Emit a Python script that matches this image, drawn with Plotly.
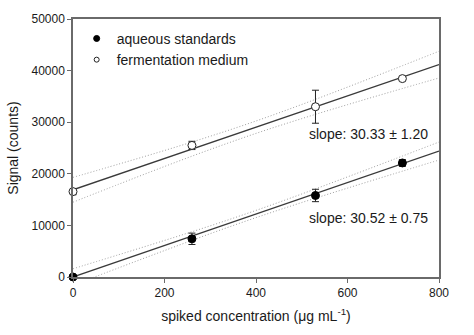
import plotly.graph_objects as go

# ---- data ----
conc = [0, 260, 530, 720]
aq_signal = [0, 7400, 15800, 22100]
aq_err = [0, 1100, 1200, 650]
fm_signal = [16550, 25500, 33000, 38450]
fm_err = [600, 800, 3200, 300]

aq_slope, aq_intercept = 30.52, 0
fm_slope, fm_intercept = 30.33, 16900

band_x = [0, 100, 200, 300, 400, 500, 600, 700, 800]
aq_band = [1600, 1270, 980, 760, 700, 830, 1090, 1400, 1740]
fm_band = [2400, 1950, 1550, 1280, 1200, 1370, 1700, 2120, 2590]

x_ticks = [0, 200, 400, 600, 800]
y_ticks = [0, 10000, 20000, 30000, 40000, 50000]

aq_label = "slope: 30.52 ± 0.75"
fm_label = "slope: 30.33 ± 1.20"

FONT = "Liberation Sans, Arial, sans-serif"
TXT = "#1a1a1a"

fig = go.Figure()

line_x = [0, 800]
for slope, icpt, band in [(aq_slope, aq_intercept, aq_band), (fm_slope, fm_intercept, fm_band)]:
    fit = [icpt + slope * x for x in band_x]
    fig.add_trace(go.Scatter(x=band_x, y=[f + b for f, b in zip(fit, band)], mode="lines",
                             line=dict(color="#a0a0a0", width=1, dash="1px,2px", shape="spline"),
                             showlegend=False, hoverinfo="skip"))
    fig.add_trace(go.Scatter(x=band_x, y=[f - b for f, b in zip(fit, band)], mode="lines",
                             line=dict(color="#a0a0a0", width=1, dash="1px,2px", shape="spline"),
                             showlegend=False, hoverinfo="skip"))
    fig.add_trace(go.Scatter(x=line_x, y=[icpt + slope * x for x in line_x], mode="lines",
                             line=dict(color="#3a3a3a", width=1.3),
                             showlegend=False, hoverinfo="skip"))

fig.add_trace(go.Scatter(x=conc, y=aq_signal, mode="markers",
                         marker=dict(symbol="circle", size=8, color="black",
                                     line=dict(color="black", width=1)),
                         error_y=dict(type="data", array=aq_err, color="#222", thickness=1, width=3.5),
                         cliponaxis=False, showlegend=False))
fig.add_trace(go.Scatter(x=conc, y=fm_signal, mode="markers",
                         marker=dict(symbol="circle", size=8, color="white",
                                     line=dict(color="#222", width=1)),
                         error_y=dict(type="data", array=fm_err, color="#222", thickness=1, width=3.5),
                         cliponaxis=False, showlegend=False))

# legend entries
fig.add_trace(go.Scatter(x=[None], y=[None], mode="markers", name="aqueous standards",
                         marker=dict(symbol="circle", size=6, color="black",
                                     line=dict(color="black", width=1))))
fig.add_trace(go.Scatter(x=[None], y=[None], mode="markers", name="fermentation medium",
                         marker=dict(symbol="circle", size=5, color="white",
                                     line=dict(color="#222", width=1))))

fig.add_annotation(x=511, y=27700, text=fm_label, showarrow=False, xanchor="left",
                   yanchor="middle", font=dict(size=14, color=TXT, family=FONT))
fig.add_annotation(x=511, y=11350, text=aq_label, showarrow=False, xanchor="left",
                   yanchor="middle", font=dict(size=14, color=TXT, family=FONT))

axis_common = dict(showgrid=False, zeroline=False, showline=True, mirror=True,
                   linecolor="#6a6a6a", linewidth=1.5, ticks="outside", ticklen=4,
                   tickcolor="#6a6a6a", tickwidth=1,
                   tickfont=dict(size=12, color=TXT, family=FONT))

fig.update_layout(
    width=474, height=335,
    margin=dict(l=73, r=35, t=17, b=58),
    paper_bgcolor="white", plot_bgcolor="white",
    font=dict(family=FONT, color=TXT),
    xaxis=dict(range=[0, 800], tickmode="array", tickvals=x_ticks,
               ticktext=[str(v) for v in x_ticks],
               title=dict(text="spiked concentration (μg mL<sup>-1</sup>)",
                          font=dict(size=14, color=TXT, family=FONT), standoff=12),
               **axis_common),
    yaxis=dict(range=[0, 50000], tickmode="array", tickvals=y_ticks,
               ticktext=[str(v) for v in y_ticks],
               title=dict(text="Signal (counts)", font=dict(size=14, color=TXT, family=FONT),
                          standoff=10),
               **axis_common),
    legend=dict(x=0.01, y=0.985, xanchor="left", yanchor="top", bgcolor="rgba(0,0,0,0)",
                font=dict(size=14, color=TXT, family=FONT), itemsizing="trace",
                tracegroupgap=0),
    showlegend=True,
)

fig.write_html("out.html")
